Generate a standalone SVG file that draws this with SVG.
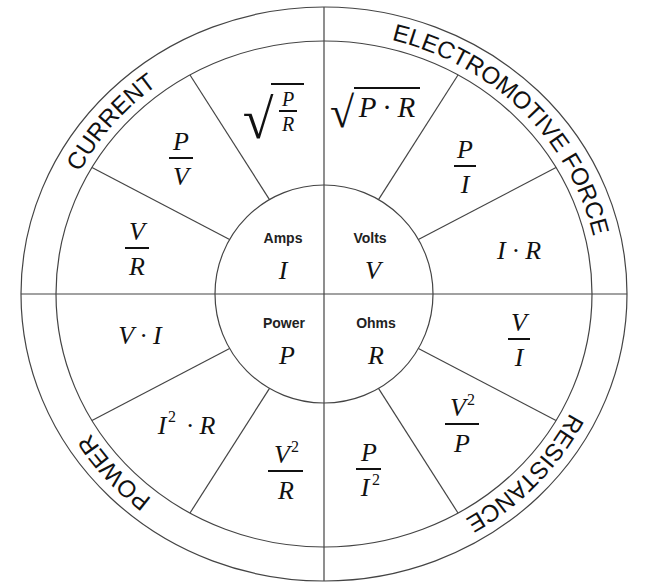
<svg xmlns="http://www.w3.org/2000/svg" width="650" height="586" viewBox="0 0 650 586">
<style>
.ln{stroke:#444;stroke-width:1.2;fill:none}
.m{font-family:"Liberation Serif",serif;font-style:italic;font-size:26px;fill:#111;text-anchor:middle}
.s{font-family:"Liberation Serif",serif;font-size:16px;fill:#111}
.u{font-family:"Liberation Serif",serif;fill:#111;text-anchor:middle}
.b{stroke:#111;stroke-width:2}
.lab{font-family:"Liberation Sans",sans-serif;font-size:14px;font-weight:bold;fill:#222;text-anchor:middle}
.arc{font-family:"Liberation Sans",sans-serif;font-size:24px;fill:#111;text-anchor:middle}
</style>
<defs>
<path id="ring" d="M 600 294 A 276 262 0 0 1 48 294 A 276 262 0 0 1 600 294"/>
</defs>
<rect width="650" height="586" fill="#fff"/>
<g id="connectors">
<ellipse class="ln" cx="324" cy="294" rx="303" ry="287"/>
<ellipse class="ln" cx="324" cy="294" rx="268" ry="253"/>
<circle class="ln" cx="324" cy="294" r="109"/>
<line class="ln" x1="324" y1="7" x2="324" y2="581"/>
<line class="ln" x1="21" y1="294" x2="627" y2="294"/>
<line class="ln" x1="190" y1="75" x2="269.5" y2="199.6"/>
<line class="ln" x1="458" y1="75" x2="378.5" y2="199.6"/>
<line class="ln" x1="190" y1="513" x2="269.5" y2="388.4"/>
<line class="ln" x1="458" y1="513" x2="378.5" y2="388.4"/>
<line class="ln" x1="92" y1="167.5" x2="229.6" y2="239.5"/>
<line class="ln" x1="556" y1="167.5" x2="418.4" y2="239.5"/>
<line class="ln" x1="92" y1="420.5" x2="229.6" y2="348.5"/>
<line class="ln" x1="556" y1="420.5" x2="418.4" y2="348.5"/>
</g>
<g id="band-labels">
<text class="arc"><textPath href="#ring" startOffset="61%">CURRENT</textPath></text>
<text class="arc"><textPath href="#ring" startOffset="87.8%">ELECTROMOTIVE FORCE</textPath></text>
<text class="arc"><textPath href="#ring" startOffset="11.8%">RESISTANCE</textPath></text>
<text class="arc"><textPath href="#ring" startOffset="38.6%">POWER</textPath></text>
</g>
<g id="center">
<text class="lab" x="283" y="243">Amps</text><text class="m" x="283" y="279">I</text>
<text class="lab" x="370" y="243">Volts</text><text class="m" x="373" y="279">V</text>
<text class="lab" x="284" y="328">Power</text><text class="m" x="287" y="364">P</text>
<text class="lab" x="376" y="328">Ohms</text><text class="m" x="376" y="364">R</text>
</g>
<g id="n-sqrtPR">
<text class="u" x="258" y="138" style="font-size:56px">√</text>
<line class="b" x1="271" y1="84" x2="304" y2="84"/>
<text class="m" x="288" y="106" style="font-size:20px">P</text>
<line class="b" x1="279" y1="111" x2="297" y2="111"/>
<text class="m" x="288" y="131" style="font-size:20px">R</text>
</g>
<g id="n-sqrtPdotR">
<text class="u" x="342" y="127" style="font-size:44px">√</text>
<line class="b" x1="354" y1="88" x2="420" y2="88"/>
<text class="m" x="387" y="117" style="font-size:29px">P · R</text>
</g>
<g id="n-PI"><text class="m" x="465" y="158">P</text><line class="b" x1="454" y1="166" x2="476" y2="166"/><text class="m" x="465" y="193">I</text></g>
<g id="n-IR"><text class="m" x="519" y="259">I · R</text></g>
<g id="n-VI2"><text class="m" x="519" y="331">V</text><line class="b" x1="508" y1="339" x2="530" y2="339"/><text class="m" x="519" y="366">I</text></g>
<g id="n-V2P"><text class="m" x="458" y="416">V</text><text class="s" x="467" y="405">2</text><line class="b" x1="445" y1="424" x2="479" y2="424"/><text class="m" x="462" y="452">P</text></g>
<g id="n-PI2"><text class="m" x="369" y="461">P</text><line class="b" x1="356" y1="469" x2="381" y2="469"/><text class="m" x="365" y="496">I</text><text class="s" x="372" y="485">2</text></g>
<g id="n-V2R"><text class="m" x="282" y="463">V</text><text class="s" x="291" y="452">2</text><line class="b" x1="268" y1="471" x2="303" y2="471"/><text class="m" x="286" y="499">R</text></g>
<g id="n-I2R"><text class="m" x="162" y="434">I</text><text class="s" x="168" y="422">2</text><text class="m" x="201" y="434">· R</text></g>
<g id="n-VdotI"><text class="m" x="140" y="344">V · I</text></g>
<g id="n-VR"><text class="m" x="137" y="240">V</text><line class="b" x1="125" y1="248" x2="149" y2="248"/><text class="m" x="137" y="275">R</text></g>
<g id="n-PV"><text class="m" x="181" y="150">P</text><line class="b" x1="169" y1="158" x2="193" y2="158"/><text class="m" x="181" y="185">V</text></g>
</svg>
